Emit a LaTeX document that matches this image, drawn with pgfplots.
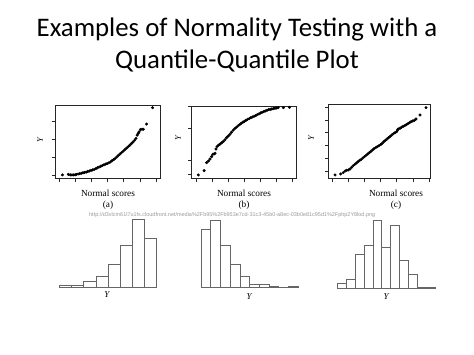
\documentclass[border=0pt]{standalone}
\usepackage{fontspec}
\setmainfont{Carlito}
\newfontfamily\serif{Liberation Serif}
\newfontfamily\urlfont{Liberation Sans}
\usepackage{graphicx}
\usepackage{pgfplots}
\pgfplotsset{compat=1.18}
\pgfplotsset{
  qq/.style={scale only axis, anchor=south west,
    axis line style={black!85, line width=0.5pt},
    xtick={-3,-2,-1,0,1,2,3}, xticklabels={}, yticklabels={},
    tick align=outside, major tick length=3.5pt,
    xtick pos=left, ytick pos=left,
    tick style={black!85, line width=0.5pt}},
  pts/.style={only marks, mark=*, mark size=1.3pt, black},
  hist/.style={scale only axis, anchor=south west, hide axis, clip=false, ymin=0},
  bars/.style={ybar interval, fill=white, draw=black!60, line width=0.6pt}
}
\begin{document}
\begin{tikzpicture}[x=1pt,y=1pt]
\useasboundingbox (0,0) rectangle (474,355);
% title
\node[anchor=base, font=\fontsize{26.8}{31}\selectfont] at (237,318) {Examples of Normality Testing with a};
\node[anchor=base, font=\fontsize{26.8}{31}\selectfont] at (237,286) {Quantile-Quantile Plot};

% ---- QQ (a)
\begin{axis}[qq, at={(55pt,176.7pt)}, width=105pt, height=73.3pt,
  xmin=-3.25, xmax=3.25, ymin=-0.148, ymax=3.93, ytick={0,1,2,3}]
\addplot[pts] coordinates {
(-2.79,0.04) (-2.42,0.07) (-2.30,0.04) (-2.20,0.04) (-2.10,0.04) (-2.00,0.05)
(-1.92,0.07) (-1.82,0.09) (-1.72,0.11) (-1.62,0.13) (-1.52,0.16) (-1.42,0.18)
(-1.32,0.20) (-1.22,0.23) (-1.12,0.26) (-1.02,0.29) (-0.92,0.32) (-0.82,0.35)
(-0.72,0.39) (-0.62,0.44) (-0.52,0.48) (-0.42,0.52) (-0.32,0.56) (-0.22,0.60)
(-0.12,0.64) (-0.02,0.67) (0.08,0.71) (0.18,0.76) (0.28,0.83) (0.38,0.89)
(0.48,0.96) (0.58,1.04) (0.68,1.13) (0.78,1.21) (0.88,1.29) (0.98,1.37)
(1.08,1.45) (1.18,1.53) (1.28,1.61) (1.38,1.69) (1.48,1.78) (1.58,1.87)
(1.68,1.97) (1.76,2.07) (1.84,2.25) (1.90,2.35) (1.96,2.44) (2.04,2.56)
(2.14,2.58) (2.22,2.58) (2.42,2.87) (2.79,3.78)};
\end{axis}

% ---- QQ (b)
\begin{axis}[qq, at={(191.7pt,176.7pt)}, width=105pt, height=72.3pt,
  xmin=-3.27, xmax=3.25, ymin=0, ymax=217, ytick={13,53,150,215}]
\addplot[pts] coordinates {
(-2.86,10) (-2.50,23) (-2.34,47) (-2.23,52) (-2.13,58) (-2.03,65) (-1.96,72)
(-1.88,73) (-1.82,75) (-1.76,88) (-1.70,95) (-1.62,99) (-1.55,101) (-1.48,104)
(-1.40,107) (-1.30,111) (-1.20,116) (-1.10,122) (-1.00,127) (-0.90,132)
(-0.80,138) (-0.70,144) (-0.60,149) (-0.50,153) (-0.40,157) (-0.30,161)
(-0.20,165) (-0.10,168) (0.00,171) (0.10,174) (0.20,177) (0.30,179) (0.40,182)
(0.50,184) (0.60,186) (0.70,188) (0.80,191) (0.90,193) (1.00,196) (1.10,198)
(1.20,200) (1.30,202) (1.40,204) (1.50,206) (1.60,207) (1.70,208) (1.80,209)
(1.90,210) (2.00,211) (2.10,212) (2.42,212) (2.80,213)};
\end{axis}

% ---- QQ (c)
\begin{axis}[qq, at={(328.3pt,176.7pt)}, width=101.7pt, height=74pt,
  xmin=-3.25, xmax=3.07, ymin=0, ymax=222, ytick={21,60,98,137,175,212}]
\addplot[pts] coordinates {
(-2.83,10) (-2.48,13) (-2.32,17) (-2.20,22) (-2.11,24) (-2.00,25) (-1.90,28)
(-1.80,33) (-1.70,38) (-1.60,42) (-1.50,46) (-1.40,50) (-1.30,54) (-1.20,57)
(-1.10,61) (-1.00,65) (-0.90,69) (-0.80,73) (-0.70,77) (-0.60,81) (-0.50,85)
(-0.40,89) (-0.30,92) (-0.20,95) (-0.10,98) (0.00,101) (0.10,105) (0.20,110)
(0.30,114) (0.40,118) (0.50,122) (0.60,126) (0.70,130) (0.80,134) (0.90,137)
(1.00,140) (1.05,145) (1.10,148) (1.20,150) (1.30,153) (1.40,156) (1.50,158)
(1.60,161) (1.70,164) (1.80,167) (1.90,170) (2.00,172) (2.10,174) (2.20,178)
(2.45,190) (2.82,212)};
\end{axis}

% labels under QQ plots
\begin{scope}[font=\serif\fontsize{9.3}{10}\selectfont]
\node[anchor=base] at (108,158) {Normal scores};
\node[anchor=base] at (108,147.5) {(a)};
\node[anchor=base] at (244,158) {Normal scores};
\node[anchor=base] at (244,147.5) {(b)};
\node[anchor=base] at (396,158) {Normal scores};
\node[anchor=base] at (396,147.5) {(c)};
\node[rotate=90, font=\serif\itshape\fontsize{8.5}{9}\selectfont] at (40,215) {Y};
\node[rotate=90, font=\serif\itshape\fontsize{8.5}{9}\selectfont] at (178,217) {Y};
\node[rotate=90, font=\serif\itshape\fontsize{8.5}{9}\selectfont] at (311,217) {Y};
\end{scope}

% url
\node[anchor=base west, text=black!40, inner sep=0pt] at (89,138)
  {\resizebox{286pt}{!}{\urlfont\fontsize{5}{6}\selectfont http://d3vlcm61l7u1fs.cloudfront.net/media\%2Fb95\%2Fb953e7cd-31c3-45b0-a8ec-03b0e81c95d1\%2Fphp2Y8lod.png}};

% ---- Histogram (a)
\begin{axis}[hist, at={(59.3pt,68pt)}, width=97.4pt, height=68pt,
  xmin=0, xmax=8, ymax=204]
\addplot[bars] coordinates {(0,5) (1,5) (2,16) (3,32) (4,67) (5,126) (6,204) (7,146) (8,146)};
\end{axis}

% ---- Histogram (b)
\begin{axis}[hist, at={(201pt,67.7pt)}, width=97pt, height=67.3pt,
  xmin=0, xmax=10, ymax=202]
\addplot[bars] coordinates {(0,174) (1,202) (2,126) (3,70) (4,34) (5,10) (6,10) (7,4) (8,0) (9,4) (10,4)};
\end{axis}

% ---- Histogram (c)
\begin{axis}[hist, at={(337.3pt,66.7pt)}, width=97.7pt, height=67.7pt,
  xmin=0, xmax=11, ymax=203]
\addplot[bars] coordinates {(0,15) (1,28) (2,103) (3,130) (4,203) (5,123) (6,190) (7,83) (8,42) (9,2) (10,2) (11,2)};
\end{axis}

\begin{scope}[font=\serif\itshape\fontsize{9}{10}\selectfont]
\node at (107,60) {Y};
\node at (249,58) {Y};
\node at (386,58) {Y};
\end{scope}
\end{tikzpicture}
\end{document}
